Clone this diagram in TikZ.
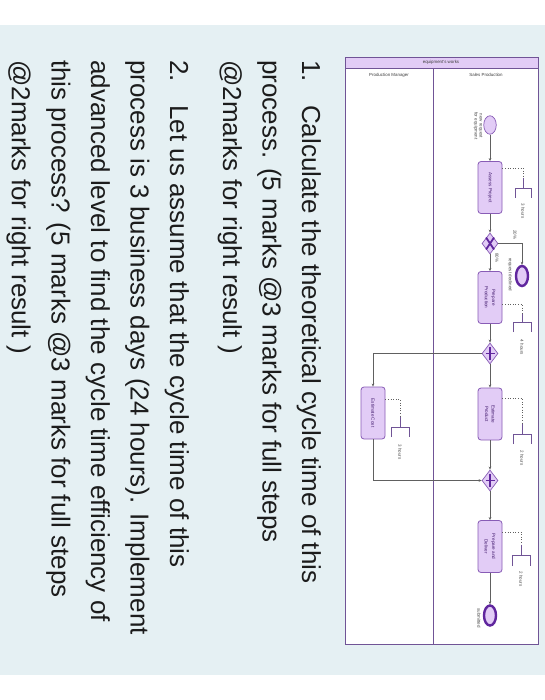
\documentclass[tikz,border=0pt]{standalone}
\usepackage{fontspec}
\setmainfont{Liberation Sans}
\usetikzlibrary{arrows.meta,shapes.geometric}

\definecolor{panel}{RGB}{229,240,243}
\definecolor{lilac}{RGB}{226,204,246}
\definecolor{plum}{RGB}{96,38,158}
\definecolor{poolline}{RGB}{112,84,150}
\definecolor{flowgray}{RGB}{96,96,96}
\definecolor{ink}{RGB}{28,28,28}

\tikzset{
  task/.style={draw=plum!75,fill=lilac,rounded corners=3pt,line width=0.8pt,minimum width=24pt,minimum height=52pt,inner sep=0pt,text=plum!70!black,font=\fontsize{4.6}{5.2}\selectfont},
  gate/.style={diamond,draw=plum!75,fill=lilac,line width=0.7pt,minimum width=16pt,minimum height=21pt,inner sep=0pt},
  startev/.style={ellipse,draw=plum!75,fill=lilac,line width=0.7pt,minimum width=12.5pt,minimum height=18.5pt,inner sep=0pt},
  endev/.style={ellipse,draw=plum,fill=lilac,line width=2.4pt,minimum width=12pt,minimum height=20pt,inner sep=0pt},
  flow/.style={draw=flowgray,line width=0.5pt,-{Stealth[length=3pt,width=2.6pt]}},
  assoc/.style={draw=flowgray,line width=0.6pt,dotted},
  bracket/.style={draw=poolline,line width=0.7pt},
  gatemark/.style={draw=plum,line width=1.8pt},
  tiny/.style={rotate=-90,font=\fontsize{4.5}{5}\selectfont,text=ink!80,inner sep=0pt,align=center},
  lanehead/.style={font=\fontsize{4.4}{5}\selectfont,text=ink!85,inner sep=0pt},
  qline/.style={rotate=-90,anchor=base west,inner sep=0pt,font=\fontsize{26}{30}\selectfont,text=ink}
}

\begin{document}
\begin{tikzpicture}[x=1pt,y=-1pt]
\useasboundingbox (0,0) rectangle (545,700);
\fill[white] (0,0) rectangle (545,700);
\fill[panel] (0,25) rectangle (545,675);

\node (q1a) at (302,60)   [qline] {\makebox[45pt][l]{1.}Calculate the theoretical cycle time of this};
\node (q1b) at (262.5,60) [qline] {process. (5 marks @3 marks for full steps};
\node (q1c) at (223,60)   [qline] {@2marks for right result )};
\node (q2a) at (170,60)   [qline] {\makebox[45pt][l]{2.}Let us assume that the cycle time of this};
\node (q2b) at (130.5,60) [qline] {process is 3 business days (24 hours). Implement};
\node (q2c) at (91,60)    [qline] {advanced level to find the cycle time efficiency of};
\node (q2d) at (51.5,60)  [qline] {this process? (5 marks @3 marks for full steps};
\node (q2e) at (12,60)    [qline] {@2marks for right result )};

\fill[white] (345,57) rectangle (538,644);
\fill[lilac] (345,57) rectangle (538,68);
\draw[poolline,line width=0.9pt] (345,57) rectangle (538,644);
\draw[poolline,line width=0.9pt] (345,68) -- (538,68);
\draw[poolline,line width=0.9pt] (433,68) -- (433,644);
\node (pool) at (441,62.5) [lanehead] {equipment's works};
\node (pm) at (389,75) [lanehead] {Production Manager};
\node (sp) at (486,75) [lanehead] {Sales Production};

\node (start) at (490,125) [startev] {};
\node (newreq) at (478,126) [tiny] {new request\\for equipment};
\node (assess) at (490,187.5) [task] {\rotatebox{-90}{Assess Project}};
\node (g1) at (490,243.5) [gate] {};
\node (decl) at (522,276) [endev] {};
\node (prep) at (490,297.5) [task] {\rotatebox{-90}{\shortstack{Prepare\\Production}}};
\node (g2) at (490,353.5) [gate] {};
\node (est) at (490,414) [task] {\rotatebox{-90}{\shortstack{Estimate\\Product}}};
\node (cost) at (373,413) [task] {\rotatebox{-90}{Estimate Cost}};
\node (g3) at (490,480.5) [gate] {};
\node (deliver) at (490,546.5) [task] {\rotatebox{-90}{\shortstack{Prepare and\\Deliver}}};
\node (done) at (490,615.5) [endev] {};

\draw[gatemark] ([shift={(-4,-6)}]g1.center) -- ([shift={(4,6)}]g1.center);
\draw[gatemark] ([shift={(4,-6)}]g1.center) -- ([shift={(-4,6)}]g1.center);
\draw[gatemark] ([shift={(0,-6.5)}]g2.center) -- ([shift={(0,6.5)}]g2.center);
\draw[gatemark] ([shift={(-4.5,0)}]g2.center) -- ([shift={(4.5,0)}]g2.center);
\draw[gatemark] ([shift={(0,-6.5)}]g3.center) -- ([shift={(0,6.5)}]g3.center);
\draw[gatemark] ([shift={(-4.5,0)}]g3.center) -- ([shift={(4.5,0)}]g3.center);

\draw[flow] (start) -- (assess);
\draw[flow] (assess) -- (g1);
\draw[flow] (g1) -- (prep);
\draw[flow] (g1) -| (decl);
\draw[flow] (prep) -- (g2);
\draw[flow] (g2) -| (cost);
\draw[flow] (g2) -- (est);
\draw[flow] (est) -- (g3);
\draw[flow] (cost) |- (g3);
\draw[flow] (g3) -- (deliver);
\draw[flow] (deliver) -- (done);

\node (p20) at (515,235) [tiny] {20\%};
\node (p80) at (497,258) [tiny] {80\%};
\node (rdecl) at (510,275) [tiny] {request declined};
\node (sub) at (479,618) [tiny] {submitted};

\coordinate (a1) at (523,178);
\coordinate (a2) at (522,314);
\coordinate (a3) at (522,424);
\coordinate (a4) at (521,545);
\coordinate (a5) at (400,417);

\draw[assoc] ([yshift=19.5pt]assess.east) -| (a1);
\draw[assoc] ([yshift=-6.5pt]prep.east) -| (a2);
\draw[assoc] ([yshift=16pt]est.east) -| (a3);
\draw[assoc] ([yshift=14.5pt]deliver.east) -| (a4);
\draw[assoc] ([yshift=14pt]cost.east) -| (a5);

\draw[bracket] (a1) -- (523,188) (515,198) -- (515,188) -- (531,188) -- (531,198);
\draw[bracket] (a2) -- (522,322) (513,332) -- (513,322) -- (531,322) -- (531,332);
\draw[bracket] (a3) -- (522,434) (513,444) -- (513,434) -- (531,434) -- (531,444);
\draw[bracket] (a4) -- (521,555) (512,566) -- (512,555) -- (530,555) -- (530,566);
\draw[bracket] (a5) -- (400,427) (391,437) -- (391,427) -- (409,427) -- (409,437);

\node (h1) at (523,211) [tiny] {3 hours};
\node (h2) at (522,347.5) [tiny] {4 hours};
\node (h3) at (522,458) [tiny] {2 hours};
\node (h4) at (521,579) [tiny] {2 hours};
\node (h5) at (400,452) [tiny] {3 hours};

\end{tikzpicture}
\end{document}
